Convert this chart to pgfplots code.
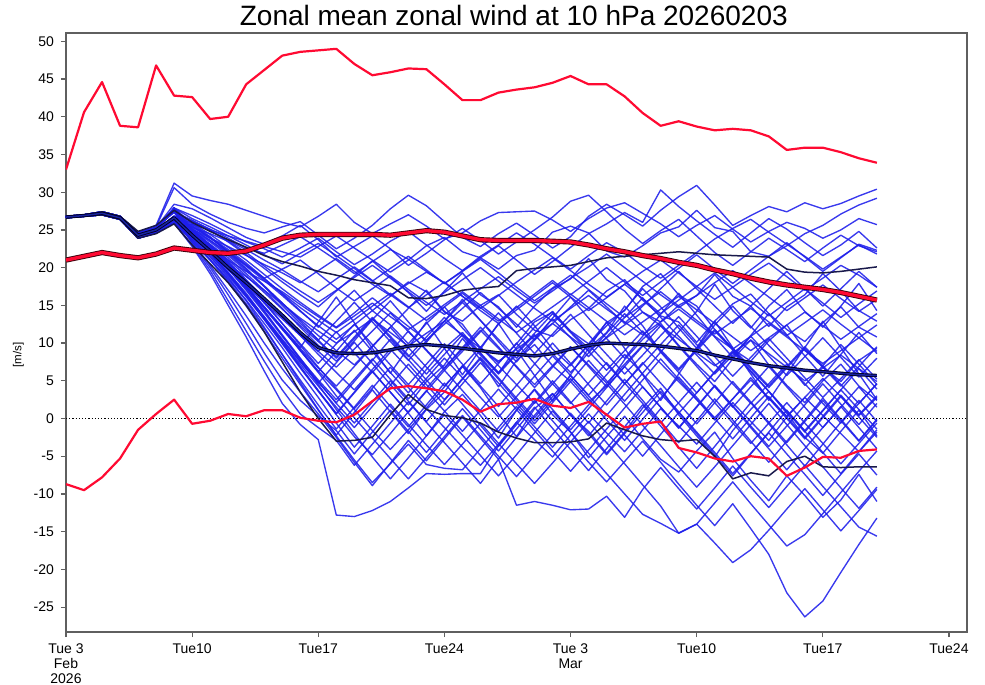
\documentclass[border=0pt]{standalone}
\usepackage{fontspec}
\setmainfont{Liberation Sans}
\usepackage{pgfplots}
\usepackage{pgfplotstable}
\pgfplotsset{compat=1.18}

\definecolor{member}{RGB}{30,30,235}
\definecolor{darkline}{RGB}{25,25,75}
\definecolor{meanin}{RGB}{25,35,160}
\definecolor{climred}{RGB}{255,10,50}
\definecolor{climedge}{RGB}{60,0,10}
\definecolor{framegray}{RGB}{95,95,95}

% ensemble members, one row per member, one column per day (day 0 = 3 Feb 2026)
\pgfplotstableread[header=false]{
26.8 27.0 27.4 26.8 24.7 25.6 31.2 29.5 28.9 28.4 27.6 26.8 26.0 25.4 26.8 28.4 26.0 24.5 25.8 27.0 25.5 23.8 24.6 26.2 27.3 27.4 27.5 26.3 24.8 26.5 27.9 28.6 27.2 25.8 24.1 25.6 26.9 25.1 23.4 24.8 26.0 25.2 23.9 25.0 26.5 25.7
26.7 27.0 27.3 26.7 24.5 25.4 30.6 28.4 27.1 26.0 25.2 24.6 25.4 26.1 24.3 22.5 23.9 25.6 27.8 29.6 28.2 26.1 24.0 22.8 24.5 25.9 24.3 22.6 24.1 26.8 28.4 27.0 25.5 27.6 29.4 30.9 28.3 25.6 26.9 28.1 27.4 28.6 27.8 28.5 29.5 30.4
26.8 27.0 27.4 26.8 24.6 25.3 28.4 27.8 26.6 25.3 24.0 23.1 24.2 25.6 23.7 21.4 22.8 24.2 22.5 20.3 21.9 23.7 25.2 23.6 21.8 23.4 25.0 26.7 28.8 29.6 27.4 25.1 23.2 24.9 26.4 24.2 22.0 20.3 22.1 23.9 22.4 20.8 22.6 24.3 22.9 22.1
26.7 27.0 27.3 26.7 24.4 25.1 27.9 26.9 25.8 24.6 23.4 22.5 21.4 22.6 23.9 22.1 20.4 21.8 23.5 24.8 23.0 21.2 19.6 21.3 22.9 21.0 19.1 20.8 22.7 24.5 25.8 27.3 26.0 30.3 28.1 26.2 24.4 22.7 24.6 26.5 25.1 23.3 21.6 23.0 24.8 22.6
26.7 26.9 27.2 26.5 24.2 24.9 26.8 26.2 25.1 23.9 22.6 21.9 23.0 24.1 22.6 21.0 19.2 20.8 22.4 21.1 19.5 17.9 19.6 21.5 23.0 24.6 23.1 21.4 19.8 21.6 23.3 22.0 20.2 18.6 20.3 22.0 23.8 25.2 26.4 24.7 23.1 21.5 19.8 21.4 23.0 21.8
26.6 26.8 27.0 26.4 23.9 24.6 26.2 25.1 23.9 22.8 21.6 20.4 19.3 18.0 19.6 21.2 19.5 17.8 16.3 17.9 19.4 18.0 16.2 14.6 16.3 18.1 19.7 21.3 19.6 17.8 16.1 17.8 19.5 21.0 19.3 17.5 15.8 17.4 19.1 20.6 18.8 17.0 18.6 20.3 19.0 17.4
26.8 27.0 27.4 26.8 24.6 25.3 27.4 25.6 24.0 22.1 20.3 18.6 19.8 21.0 19.2 17.3 15.6 17.2 18.9 17.1 15.4 13.8 15.5 17.2 18.8 17.0 15.3 16.9 18.6 20.1 21.8 20.0 18.2 16.4 14.7 16.3 18.0 19.6 17.9 16.1 14.3 16.0 17.7 15.9 14.2 15.8
26.7 26.9 27.2 26.5 24.2 24.9 26.8 25.3 24.5 23.5 22.0 20.2 18.5 16.9 15.4 17.0 18.7 20.3 18.6 16.8 15.0 16.7 18.4 20.0 18.2 16.4 14.6 12.9 14.6 16.3 14.5 12.8 11.1 12.8 14.5 12.7 10.9 9.2 10.9 12.6 10.8 9.0 7.3 9.0 10.7 8.9
26.6 26.9 27.1 26.6 24.0 24.8 25.9 24.6 22.8 21.0 19.5 18.2 16.8 15.1 13.5 12.0 13.6 15.3 13.5 11.8 13.4 15.1 16.8 15.0 13.2 11.4 13.1 14.8 16.5 14.7 12.9 11.1 12.8 14.5 16.2 14.4 12.6 10.8 9.0 10.7 12.4 14.1 12.3 10.5 12.2 13.9
26.6 26.8 27.0 26.4 23.9 24.6 26.2 24.2 22.3 20.4 18.8 17.0 15.2 13.3 11.6 10.0 11.5 13.2 11.4 9.6 11.3 12.9 11.1 9.3 7.6 9.2 10.9 12.6 10.8 9.0 10.7 12.4 14.1 12.3 10.5 8.7 7.0 8.7 10.4 8.6 6.8 5.0 6.7 8.4 6.6 4.9
26.6 26.9 27.1 26.6 24.0 24.8 25.9 22.8 19.2 15.0 10.8 6.3 2.0 -0.8 -2.8 -12.8 -13.0 -12.2 -11.0 -9.2 -7.3 -7.4 -7.3 -7.3 -3.6 -0.5 -2.8 -5.1 -2.2 0.6 -1.9 -4.4 -1.6 1.3 -1.0 -3.4 -0.6 2.1 -0.4 -2.9 0.2 2.8 0.4 -2.0 -4.4 -1.8
26.7 26.9 27.2 26.5 24.2 24.9 26.8 24.0 22.0 19.8 17.3 14.6 11.8 9.1 6.3 3.8 1.2 -1.6 -4.1 -1.5 1.3 -1.2 -3.8 -6.2 -3.4 -0.5 2.4 -0.3 -3.1 -5.8 -8.4 -5.7 -3.0 -5.8 -8.7 -11.5 -14.2 -11.3 -14.6 -18.0 -23.1 -26.3 -24.2 -20.4 -16.7 -13.2
26.6 26.8 27.0 26.4 23.9 24.6 26.2 23.4 21.0 18.5 15.7 12.6 9.4 6.0 2.8 -0.6 -3.8 -1.0 1.9 -0.8 -3.5 -6.1 -3.4 -0.6 -3.3 -6.0 -8.6 -5.9 -3.1 -0.4 -3.2 -6.0 -8.8 -11.6 -15.2 -14.0 -16.5 -19.1 -17.4 -14.8 -12.0 -9.3 -12.1 -14.9 -12.2 -9.4
26.6 26.9 27.1 26.6 24.0 24.8 25.9 23.0 19.6 15.6 11.6 7.6 3.8 0.6 -1.2 -2.9 -6.2 -3.4 -0.6 2.2 -0.5 -3.2 -5.9 -8.6 -5.4 -11.5 -11.0 -11.5 -12.1 -12.0 -10.3 -13.1 -9.4 -6.5 -9.3 -12.0 -9.2 -6.3 -9.1 -11.8 -9.0 -6.2 -9.0 -11.7 -14.4 -15.6
26.8 27.0 27.4 26.8 24.6 25.3 27.4 24.8 22.6 20.1 17.4 14.3 11.0 7.8 4.5 1.2 -2.0 -5.1 -8.0 -5.2 -2.3 0.5 -2.2 -4.9 -7.6 -4.8 -1.9 1.0 -1.8 -4.6 -7.3 -10.0 -12.7 -13.9 -15.2 -14.0 -11.2 -8.4 -11.3 -14.1 -16.9 -15.4 -12.6 -9.8 -7.0 -4.3
26.7 27.0 27.3 26.7 24.4 25.1 27.9 24.5 22.4 20.0 17.5 14.8 12.0 9.0 6.1 3.0 0.1 -2.6 -5.3 -8.0 -5.2 -2.4 0.4 -2.3 -5.0 -7.7 -4.9 -2.1 0.7 -2.0 -4.8 -2.0 0.8 3.6 0.9 -1.8 -4.5 -7.3 -4.6 -1.9 -4.7 -7.4 -10.2 -7.4 -4.7 -7.5
26.7 26.9 27.2 26.5 24.2 24.9 26.8 24.1 21.9 19.4 16.6 13.4 10.2 6.9 3.7 0.5 -2.4 -4.8 -2.0 0.9 3.7 1.0 -1.7 1.1 3.9 1.2 -1.6 -4.3 -7.0 -4.2 -1.4 1.4 4.2 1.5 -1.3 1.5 4.3 1.6 -1.2 -4.0 -6.8 -4.0 -1.2 1.6 -1.2 -4.0
26.6 26.8 27.0 26.4 23.9 24.6 26.2 23.8 21.4 18.7 15.6 12.1 8.5 4.8 1.2 -2.3 -5.5 -8.5 -6.0 -3.4 -6.1 -6.6 -6.8 -4.0 -1.2 1.6 -1.1 -3.8 -1.0 1.8 4.6 1.9 -0.9 -3.6 -6.4 -9.1 -6.4 -3.6 -0.8 2.0 -0.8 -3.6 -6.4 -9.2 -11.9 -9.1
26.6 26.9 27.1 26.6 24.0 24.8 25.9 24.4 22.2 19.8 17.1 14.2 11.1 8.0 4.9 2.0 -0.6 2.2 5.0 2.3 -0.4 2.4 5.2 7.9 5.2 2.4 -0.3 2.5 5.3 2.6 -0.2 -2.9 -0.1 2.7 5.5 2.8 0.0 -2.7 0.1 2.9 0.2 -2.5 0.3 3.1 0.4 2.8
26.8 27.0 27.4 26.8 24.6 25.3 27.4 25.0 23.0 20.8 18.3 15.5 12.6 9.7 6.8 4.0 1.3 4.0 6.8 4.1 1.4 4.2 7.0 4.3 1.6 4.4 7.2 10.0 7.3 4.5 1.8 4.6 7.4 4.7 2.0 -0.7 2.1 4.9 2.2 -0.5 -3.2 -0.4 2.4 -0.3 -3.0 -0.2
26.7 26.9 27.2 26.5 24.2 24.9 26.8 24.7 22.8 20.7 18.4 16.0 13.5 11.0 8.5 6.1 3.8 6.5 9.2 6.6 4.0 6.7 9.4 12.1 9.5 6.8 4.1 6.8 9.5 6.9 4.2 6.9 9.6 12.3 9.6 6.9 4.2 1.5 4.2 6.9 4.2 1.5 -1.2 1.5 4.2 1.5
26.7 27.0 27.3 26.7 24.4 25.1 27.9 25.2 23.6 21.8 19.8 17.6 15.3 12.9 10.4 8.0 10.6 13.2 10.7 8.2 10.8 13.4 10.9 8.4 5.9 8.5 11.1 8.6 6.1 8.7 11.3 13.9 11.4 8.9 6.4 9.0 11.6 9.1 6.6 4.1 6.7 9.3 6.8 4.3 6.9 9.5
26.6 26.8 27.0 26.4 23.9 24.6 26.2 25.4 24.0 22.4 20.6 18.6 16.5 14.3 12.1 14.8 17.0 14.3 12.4 9.9 12.6 14.8 12.0 9.4 12.5 14.9 12.3 9.2 7.0 9.8 12.3 14.4 17.2 14.8 12.0 9.3 12.4 14.9 12.2 9.7 7.3 4.4 7.0 9.8 7.2 4.5
26.8 27.0 27.4 26.8 24.6 25.3 27.4 26.1 24.9 23.6 22.4 21.0 19.7 18.2 16.8 18.5 20.1 18.3 16.4 14.7 16.4 18.1 16.2 14.3 12.6 14.4 16.2 18.0 16.1 14.3 16.0 17.8 15.9 13.9 15.7 17.5 19.3 17.4 15.5 13.6 15.4 17.2 15.3 13.4 15.2 16.9
26.7 27.0 27.3 26.7 24.4 25.1 27.9 26.5 25.4 24.2 23.0 21.7 20.5 21.9 23.2 21.6 19.9 18.2 19.9 21.5 19.7 17.9 19.5 21.1 19.3 17.4 15.6 17.3 19.0 17.1 15.2 13.4 15.1 16.8 14.9 13.0 11.2 12.9 14.6 12.8 11.0 12.7 14.4 12.5 10.7 12.4
26.7 26.9 27.2 26.5 24.2 24.9 26.8 25.5 23.9 22.2 20.4 18.5 16.6 14.7 13.0 11.4 13.1 14.9 16.6 14.8 13.0 14.8 16.6 14.7 12.9 14.7 16.5 18.3 16.4 18.2 20.0 18.1 16.3 18.1 19.9 21.7 19.8 17.9 19.7 21.5 23.3 21.4 19.5 21.3 23.1 22.3
26.6 26.9 27.1 26.6 24.0 24.8 25.9 25.0 23.6 22.0 20.2 18.3 16.3 14.2 12.3 10.5 12.4 14.3 16.2 18.1 16.8 14.1 12.9 15.0 16.4 13.8 11.7 10.9 13.1 14.6 16.9 18.4 15.7 13.6 12.8 10.1 12.9 15.2 16.5 13.9 11.8 10.2 12.7 14.8 12.1 10.8
26.6 26.8 27.0 26.4 23.9 24.6 26.2 24.8 23.1 21.3 19.2 17.0 14.6 12.1 9.7 7.6 10.3 13.1 15.6 12.8 10.1 12.9 15.8 13.0 10.2 7.5 10.4 13.3 16.1 13.3 10.6 8.0 10.9 13.8 16.6 13.7 10.8 8.1 11.0 13.9 11.1 8.3 5.6 8.5 11.4 8.6
26.8 27.0 27.4 26.8 24.6 25.3 27.4 24.3 22.1 19.7 17.6 15.4 13.2 11.0 8.9 11.5 8.7 6.1 8.8 11.6 9.0 6.4 8.9 11.5 14.0 11.3 8.6 11.2 13.8 11.1 8.5 5.9 8.4 11.0 13.5 10.9 8.2 5.6 8.1 10.6 8.0 5.4 2.8 5.3 7.8 5.2
26.7 27.0 27.3 26.7 24.4 25.1 27.9 25.8 24.1 22.0 19.9 17.5 15.0 12.6 10.4 12.9 15.4 12.8 10.2 7.7 10.3 12.9 15.4 13.0 10.5 8.0 10.6 13.2 10.7 8.2 10.8 13.4 16.0 13.4 10.9 8.4 5.9 8.4 10.9 8.3 5.7 8.2 10.7 8.1 5.5 8.0
26.7 26.9 27.2 26.5 24.2 24.9 26.8 25.9 24.4 22.7 21.0 19.1 17.2 15.4 13.7 12.1 14.0 16.0 14.1 12.2 10.4 12.5 14.6 16.7 14.6 12.5 10.4 12.6 14.8 17.0 14.8 12.6 14.9 17.2 19.5 17.2 14.9 12.6 14.9 17.2 19.5 17.2 14.9 17.2 19.5 17.4
26.6 26.8 27.0 26.4 23.9 24.6 26.2 24.5 22.6 20.5 18.2 15.8 13.4 11.1 8.9 6.8 9.2 11.6 14.0 11.5 9.1 6.7 9.2 11.7 9.3 6.9 4.5 7.0 9.5 7.1 4.7 7.2 9.7 7.3 4.9 2.5 0.1 2.6 5.1 2.7 0.3 2.8 5.3 2.9 0.5 3.0
26.6 26.9 27.1 26.6 24.0 24.8 25.9 24.9 23.4 21.6 19.6 17.5 15.3 13.1 11.0 9.0 7.1 9.6 12.1 14.6 17.0 14.2 12.5 9.3 7.4 9.9 12.8 14.1 11.6 9.9 12.7 14.3 17.5 19.2 16.4 14.9 11.8 9.2 7.6 10.3 12.4 9.1 6.8 4.9 7.7 9.3
26.8 27.0 27.4 26.8 24.6 25.3 27.4 24.6 22.4 20.0 17.4 14.7 12.0 9.3 6.7 4.3 6.9 9.5 12.1 9.4 6.8 4.3 6.9 9.5 7.0 4.5 2.0 4.6 7.2 9.8 7.2 4.6 7.2 9.8 12.4 9.8 7.2 4.6 2.0 4.6 7.2 4.6 2.0 -0.6 2.0 4.6
26.7 27.0 27.3 26.7 24.4 25.1 27.9 24.9 22.5 19.9 17.0 14.0 10.9 7.9 5.1 2.5 5.2 7.9 5.2 2.6 5.3 8.0 5.4 2.8 0.2 2.9 5.6 8.3 5.7 3.1 5.8 8.5 5.9 3.3 0.7 3.4 6.1 8.8 6.2 3.6 1.0 -1.6 1.1 3.8 1.2 -1.4
26.7 26.9 27.2 26.5 24.2 24.9 26.8 24.5 22.3 19.9 17.4 14.8 12.1 9.4 12.8 16.1 12.7 9.3 6.0 9.4 12.8 9.3 5.8 9.2 12.6 9.1 5.7 2.3 5.8 9.3 12.8 9.3 5.8 2.4 5.9 9.4 12.9 9.4 5.9 2.4 5.9 9.4 12.9 9.4 5.9 2.5
26.6 26.8 27.0 26.4 23.9 24.6 26.2 23.9 21.5 18.9 16.1 13.2 10.2 7.2 4.3 1.5 -1.2 1.6 4.4 7.2 4.5 1.8 4.6 7.4 4.7 2.0 -0.7 2.1 4.9 7.7 5.0 2.3 5.1 7.9 5.2 2.5 -0.2 2.6 5.4 2.7 0.0 -2.7 0.1 2.9 0.2 -2.5
26.8 27.0 27.4 26.8 24.6 25.3 27.4 25.1 22.9 20.5 18.0 15.3 12.6 9.9 7.3 9.9 12.5 9.8 7.1 4.5 7.2 9.9 7.2 4.6 7.3 10.0 7.3 4.6 2.0 4.7 7.4 4.7 2.0 -0.6 2.1 4.8 2.1 -0.6 -3.3 -0.6 2.1 -0.6 -3.3 -6.0 -3.3 -0.6
26.7 27.0 27.3 26.7 24.4 25.1 27.9 25.1 22.8 20.3 17.6 14.8 11.9 9.0 6.2 8.9 11.7 8.9 6.1 3.4 6.5 9.3 11.4 8.7 6.0 9.4 12.1 14.2 11.5 9.3 11.4 14.9 12.3 8.8 11.5 14.2 17.8 14.3 12.0 14.9 17.1 14.2 12.1 14.9 17.9 14.3
26.6 26.9 27.1 26.6 24.0 24.8 25.9 24.1 21.8 19.2 16.4 13.5 10.5 7.6 4.8 2.1 4.9 7.7 10.5 7.8 5.1 2.5 5.3 8.1 5.4 2.7 0.1 2.9 5.7 3.0 0.4 3.2 6.0 8.8 6.1 3.4 6.2 9.0 6.3 3.6 0.9 -1.8 1.0 3.8 6.6 3.9
26.7 26.9 27.2 26.5 24.2 24.9 26.8 24.2 21.8 19.1 16.2 13.1 9.9 6.7 3.6 0.6 3.4 6.2 3.5 0.8 3.6 6.4 3.7 1.0 -1.7 1.1 3.9 1.2 -1.5 1.3 4.1 6.9 4.2 1.5 -1.2 1.6 4.4 1.7 -1.0 -3.7 -1.0 1.8 4.6 1.9 -0.8 2.0
26.6 26.8 27.0 26.4 23.9 24.6 26.2 23.7 21.1 18.3 15.2 11.9 8.5 5.1 1.8 -1.4 1.5 4.4 1.6 -1.1 1.8 4.7 1.9 -0.9 -3.7 -0.8 2.1 5.0 2.2 -0.6 2.3 5.2 2.4 -0.4 -3.2 -0.3 2.6 -0.2 -3.0 -5.8 -3.0 -0.2 2.7 -0.1 -2.9 -0.1
26.8 27.0 27.4 26.8 24.6 25.3 27.4 23.2 20.0 16.4 12.6 8.7 5.1 2.4 0.3 -1.6 -4.7 -1.8 1.1 -1.7 -4.5 -1.6 1.3 -1.5 -4.3 -1.4 1.5 -1.3 -4.1 -6.9 -4.0 -1.1 1.8 -1.0 -3.8 -6.6 -3.7 -0.8 2.1 -0.7 -3.5 -6.3 -3.4 -0.5 2.4 -0.4
26.7 27.0 27.3 26.7 24.4 25.1 27.9 24.4 21.9 19.2 16.3 13.2 10.0 6.8 3.7 0.7 3.5 6.3 3.5 0.7 -2.3 0.9 3.2 0.4 -2.6 1.1 3.8 0.5 -1.8 -5.2 -2.4 0.3 -2.7 -5.4 -7.1 -4.3 -1.8 -5.3 -8.2 -10.9 -7.6 -10.2 -13.1 -10.8 -7.4 -11.0
26.6 26.9 27.1 26.6 24.0 24.8 25.9 23.6 21.0 18.1 14.9 11.5 8.0 4.5 1.1 -2.2 0.8 3.8 0.9 -2.0 1.2 3.5 6.9 4.1 0.6 -2.4 1.3 3.3 0.4 -1.7 -4.6 -1.8 1.4 4.0 0.5 -2.3 -5.1 -1.6 1.2 3.6 0.7 -2.5 -4.6 -1.7 1.1 -2.3
26.7 26.9 27.2 26.5 24.2 24.9 26.8 23.4 20.3 17.0 13.6 10.0 6.6 3.5 0.6 -2.5 -5.8 -8.9 -5.9 -2.9 -5.6 -2.7 0.2 -2.6 -5.4 -2.5 0.4 3.3 0.5 -2.3 0.6 -2.2 -5.0 -2.1 0.8 -2.0 -4.8 -7.6 -4.7 -1.8 1.1 -1.7 -4.5 -7.3 -4.4 -1.5
26.6 26.8 27.0 26.4 23.9 24.6 26.2 24.9 23.0 21.0 18.9 16.7 14.5 12.3 10.2 8.2 10.8 13.4 10.9 8.4 5.9 8.5 11.1 8.6 6.1 8.7 11.3 13.9 11.4 8.9 6.4 9.0 11.6 9.1 6.6 9.2 11.8 9.3 6.8 4.3 6.9 9.5 7.0 4.5 2.0 4.6
26.8 27.0 27.4 26.8 24.6 25.3 27.4 26.3 25.0 23.4 21.7 19.9 18.1 16.4 14.8 16.9 18.9 20.9 18.8 16.7 14.2 16.9 19.3 16.4 14.8 12.1 14.9 17.2 18.5 21.2 18.4 16.9 14.1 12.8 15.0 16.3 19.1 16.2 14.9 12.2 14.8 16.4 19.2 16.9 14.3 12.9
26.7 27.0 27.3 26.7 24.4 25.1 27.9 24.7 22.1 19.3 16.4 13.4 10.4 7.5 4.7 7.4 10.1 7.3 4.5 1.8 4.9 7.1 10.6 7.8 4.2 7.7 9.8 7.0 4.9 2.2 4.3 7.8 10.5 12.6 9.7 7.2 4.9 7.9 10.4 7.1 4.4 2.1 5.0 7.2 4.3 2.4
26.6 26.9 27.1 26.6 24.0 24.8 25.9 25.7 25.0 24.2 23.5 22.8 22.1 21.4 22.8 24.2 22.6 21.0 19.4 21.0 22.9 24.0 22.1 21.3 19.8 21.6 22.3 24.7 25.5 24.6 22.2 21.4 22.9 24.6 25.4 27.6 25.3 24.8 22.1 21.5 22.9 24.5 25.6 27.1 28.3 29.2
}\membersbyrow
\pgfplotstabletranspose{\members}{\membersbyrow}

% climatological max / min / mean, ensemble mean and the two highlighted runs
\pgfplotstableread{
d  cmax cmin clim mean hi   lo
0  33.0 -8.7 21.0 26.7 26.8 26.6
1  40.6 -9.5 21.5 26.9 27.0 26.8
2  44.6 -7.8 22.0 27.2 27.4 27.0
3  38.8 -5.3 21.6 26.6 26.8 26.4
4  38.6 -1.5 21.3 24.3 24.8 23.9
5  46.8  0.6 21.8 25.0 25.6 24.5
6  42.8  2.5 22.6 26.6 27.6 25.8
7  42.6 -0.7 22.3 24.3 26.0 23.0
8  39.7 -0.3 22.0 22.2 24.8 20.5
9  40.0  0.6 21.9 20.0 23.7 18.0
10 44.3  0.3 22.2 18.0 22.7 15.0
11 46.2  1.1 23.0 15.9 21.6 11.5
12 48.1  1.1 23.9 13.7 20.8  7.5
13 48.6  0.1 24.3 11.4 20.2  3.5
14 48.8 -0.3 24.4  9.4 19.5  0.0
15 49.0 -0.5 24.4  8.7 19.0 -3.0
16 47.0  0.5 24.4  8.6 18.4 -2.9
17 45.5  2.3 24.4  8.7 18.0 -2.5
18 45.9  4.0 24.3  9.1 17.6  0.5
19 46.4  4.3 24.6  9.6 16.0  3.2
20 46.3  4.0 24.9  9.8 15.9  1.2
21 44.3  3.6 24.7  9.6 16.3  0.4
22 42.2  2.5 24.2  9.3 17.0  0.1
23 42.2  0.9 23.7  9.0 17.3 -0.6
24 43.2  1.9 23.6  8.7 17.5 -1.8
25 43.6  2.1 23.6  8.5 19.6 -2.6
26 43.9  2.6 23.6  8.3 19.9 -3.2
27 44.5  1.7 23.5  8.6 20.1 -3.2
28 45.4  1.4 23.4  9.2 20.3 -3.1
29 44.3  2.2 23.0  9.7 20.8 -2.7
30 44.3  0.5 22.5 10.0 21.3 -0.6
31 42.7 -1.2 22.1  9.9 21.5 -1.5
32 40.5 -0.7 21.6  9.8 21.7 -2.3
33 38.8 -0.4 21.2  9.6 21.9 -2.8
34 39.4 -3.9 20.7  9.3 22.1 -3.0
35 38.7 -4.5 20.3  9.0 21.9 -2.8
36 38.2 -5.3 19.7  8.4 21.7 -5.0
37 38.4 -5.7 19.2  7.9 21.6 -8.0
38 38.2 -5.0 18.6  7.4 21.5 -7.2
39 37.4 -5.3 18.1  7.0 21.4 -7.6
40 35.6 -7.6 17.7  6.7 19.8 -5.7
41 35.9 -6.5 17.4  6.4 19.4 -5.0
42 35.9 -5.1 17.1  6.2 19.3 -6.4
43 35.3 -5.2 16.7  6.0 19.5 -6.5
44 34.5 -4.3 16.2  5.8 19.8 -6.4
45 33.9 -4.1 15.7  5.7 20.1 -6.4
}\stats

\begin{document}
\begin{tikzpicture}
\path[use as bounding box] (-33pt,-26.5pt) rectangle (459.5pt,316pt);
\begin{axis}[
  scale only axis, width=450.5pt, height=299.5pt,
  xmin=0, xmax=50, ymin=-28.3, ymax=51.1,
  axis line style={framegray, line width=0.8pt},
  tick pos=left, tick align=outside,
  major tick length=2.5pt,
  tick style={framegray, line width=0.6pt},
  xtick={0,7,...,49},
  xticklabels={{Tue 3\\Feb\\2026},Tue10,Tue17,Tue24,{Tue 3\\Mar},Tue10,Tue17,Tue24},
  xticklabel style={align=center, font=\fontsize{7}{7.4}\selectfont},
  ytick={-25,-20,...,50},
  yticklabel style={font=\fontsize{7}{8}\selectfont},
  /pgf/number format/assume math mode=true,
  ylabel={[m/s]},
  ylabel style={font=\fontsize{5.8}{7}\selectfont, at={(axis description cs:-0.053,0.462)}, anchor=center},
  every axis plot/.append style={line join=round},
]
% ensemble members
\pgfplotsinvokeforeach{1,...,50}{
  \addplot[member, line width=0.68pt, opacity=0.88] table[x expr=\coordindex, y index=#1] {\members};
}
% zero line
\addplot[black, densely dotted, line width=0.6pt] coordinates {(0,0) (50,0)};
% highlighted runs
\addplot[darkline, line width=0.75pt] table[x=d, y=hi] {\stats};
\addplot[darkline, line width=0.75pt] table[x=d, y=lo] {\stats};
% ensemble mean
\addplot[black!85!blue, line width=1.7pt] table[x=d, y=mean] {\stats};
\addplot[meanin, line width=0.75pt] table[x=d, y=mean] {\stats};
% climatological extremes
\addplot[climred, line width=1.1pt] table[x=d, y=cmax] {\stats};
\addplot[climred, line width=1.1pt] table[x=d, y=cmin] {\stats};
% climatological mean
\addplot[climedge, line width=2.6pt] table[x=d, y=clim] {\stats};
\addplot[climred, line width=1.7pt] table[x=d, y=clim] {\stats};
\end{axis}
% chart title
\node[anchor=base, inner sep=0pt, font=\fontsize{14}{16}\selectfont] at (223.9pt,303pt) {Zonal mean zonal wind at 10 hPa 20260203};
\end{tikzpicture}
\end{document}
